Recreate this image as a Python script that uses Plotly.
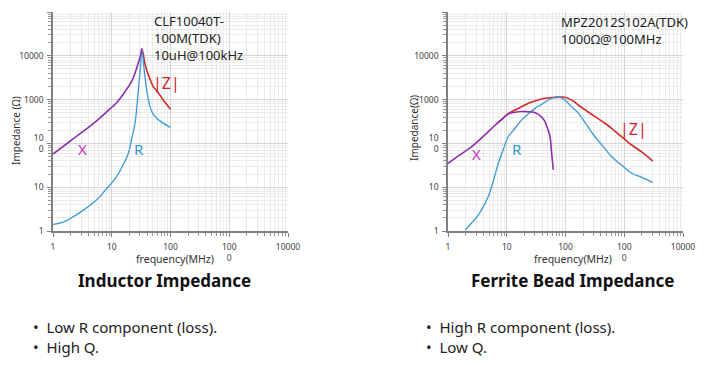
import plotly.graph_objects as go

# ---------------- data ----------------
# Inductor CLF10040T-100M
ind_x_f = [1, 2, 3.3, 6, 10, 12.1, 16, 21.8, 25, 28.4, 31, 32.3]
ind_x_z = [57, 115, 190, 360, 670, 850, 1380, 2600, 4100, 7000, 10500, 14500]

ind_r_f = [1, 1.5, 2, 3.3, 5, 6.3, 8, 10, 12.1, 15, 19.1, 22, 24.9, 28.4, 31, 32.3,
           34, 36, 39.3, 44.8, 50, 58.2, 75, 100]
ind_r_z = [1.42, 1.6, 1.95, 3.0, 4.6, 6.1, 9, 12.6, 17.4, 29, 59, 135, 288, 1660, 6300, 14500,
           9000, 4300, 1660, 690, 480, 375, 290, 230]

ind_z_f = [32.3, 34, 36, 39.3, 45, 51, 60, 75.5, 100]
ind_z_z = [14500, 12000, 7400, 4740, 2900, 1960, 1520, 980, 600]

# Ferrite bead MPZ2012S102A
fb_x_f = [1, 1.5, 2.53, 4.85, 7, 8.5, 10.6, 15.7, 21.8, 30, 40, 44.8, 50, 54.5, 58, 62]
fb_x_z = [35, 52, 84, 185, 295, 365, 470, 530, 530, 505, 390, 313, 210, 142, 62, 25]

fb_r_f = [1.95, 2.5, 3.28, 4.85, 6, 7.18, 8.5, 10.6, 13, 17.9, 24, 30.3, 40, 51, 62, 70.8,
          80, 98, 125, 165, 230, 318, 450, 611, 900, 1340, 2000, 3050]
fb_r_z = [1.05, 1.5, 2.3, 6.1, 15, 35, 65, 142, 200, 340, 490, 630, 790, 980, 1100, 1170,
          1140, 980, 700, 490, 263, 142, 81, 49.6, 32, 20.8, 16.8, 12.9]

fb_z_f = [7, 8.5, 10.6, 12.1, 16, 23.3, 30, 44.8, 60, 80, 98, 130, 165, 230, 318, 450, 611,
          900, 1340, 2000, 3050]
fb_z_z = [295, 370, 480, 530, 635, 823, 930, 1070, 1120, 1140, 1130, 960, 753, 550, 408, 300,
          221, 142, 92, 63, 39.6]

x_tickvals = [1, 10, 100, 1000, 10000]
x_ticktext = ["1", "10", "100", "100<br>0", "10000"]
y_tickvals = [1, 10, 100, 1000, 10000, 100000]
y_ticktext = ["1", "10", "10<br>0", "1000", "10000", "10000<br>0"]

# ---------------- layout helpers ----------------
W, H = 710, 365
OFF = 8  # page body margin offset
def PX(x): return (x - OFF) / W
def PY(y): return 1 - (y - OFF) / H

C_X, C_R, C_Z = "#8e2fae", "#3a9ad9", "#d42a2a"
L_X, L_R, L_Z = "#cc33cc", "#3399cc", "#cc2233"
FONT = "Noto Sans"

fig = go.Figure()

def add_set(xa, ya, zf, zz, rf, rz, xf, xz):
    fig.add_trace(go.Scatter(x=zf, y=zz, mode="lines", line=dict(color=C_Z, width=1.6),
                             xaxis=xa, yaxis=ya, showlegend=False, line_shape="spline"))
    fig.add_trace(go.Scatter(x=rf, y=rz, mode="lines", line=dict(color=C_R, width=1.3),
                             xaxis=xa, yaxis=ya, showlegend=False, line_shape="spline"))
    fig.add_trace(go.Scatter(x=xf, y=xz, mode="lines", line=dict(color=C_X, width=1.6),
                             xaxis=xa, yaxis=ya, showlegend=False, line_shape="spline"))

add_set("x", "y", ind_z_f, ind_z_z, ind_r_f, ind_r_z, ind_x_f, ind_x_z)
add_set("x2", "y2", fb_z_f, fb_z_z, fb_r_f, fb_r_z, fb_x_f, fb_x_z)

tickfont = dict(family=FONT, size=8.5, color="#404040")
minor = dict(dtick="D1", ticks="outside", ticklen=3, tickcolor="#999999",
             showgrid=True, gridcolor="#ebebeb", gridwidth=1)

def xaxis(dom, anchor):
    return dict(type="log", range=[0, 4], domain=dom, anchor=anchor,
                tickvals=x_tickvals, ticktext=x_ticktext,
                ticks="outside", ticklen=4, tickcolor="#808080", showline=True,
                linecolor="#808080", linewidth=1.5, showgrid=True, gridcolor="#d6d6d6",
                minor=minor, tickfont=tickfont, zeroline=False, automargin=False,
                ticklabelstandoff=3)

def yaxis(dom, anchor):
    return dict(type="log", range=[0, 5], domain=dom, anchor=anchor, tickvals=y_tickvals,
                ticktext=y_ticktext, ticks="outside", ticklen=4, tickcolor="#808080",
                showline=True, linecolor="#808080", linewidth=1.5, showgrid=True,
                gridcolor="#d6d6d6", minor=minor, tickfont=tickfont, zeroline=False,
                automargin=False, ticklabelstandoff=2)

ydom = [PY(231), PY(12)]
fig.update_layout(
    width=W, height=H, autosize=False,
    margin=dict(l=0, r=0, t=0, b=0),
    paper_bgcolor="white", plot_bgcolor="white",
    xaxis=xaxis([PX(53), PX(288)], "y"),
    yaxis=yaxis(ydom, "x"),
    xaxis2=xaxis([PX(448), PX(683)], "y2"),
    yaxis2=yaxis(ydom, "x2"),
)

ann = []
def text(x, y, s, size, color="#222222", xanchor="center", bold=False, angle=0,
         yanchor="middle"):
    ann.append(dict(x=PX(x), y=PY(y), xref="paper", yref="paper", text=s, showarrow=False,
                    xanchor=xanchor, yanchor=yanchor, textangle=angle, align="left",
                    font=dict(family=FONT, size=size, color=color,
                              weight="bold" if bold else "normal")))

# part-number notes
text(152, 9.5, "CLF10040T-<br>100M(TDK)<br>10uH@100kHz", 13, "#222222", "left", yanchor="top")
text(559, 11, "MPZ2012S102A(TDK)<br>1000Ω@100MHz", 13, "#222222", "left", yanchor="top")

# curve labels
text(82, 148.5, "X", 15, L_X)
text(139, 148.5, "R", 15, L_R)
text(166.5, 83, "|Z|", 16, L_Z)
text(476, 153.5, "X", 15, L_X)
text(517, 148.5, "R", 15, L_R)
text(633.5, 128.5, "|Z|", 16, L_Z)

# axis titles
text(175, 259, "frequency(MHz)", 10.5, "#333333")
text(573, 259, "frequency(MHz)", 10.5, "#333333")
text(16, 131, "Impedance (Ω)", 10, "#333333", angle=-90)
text(414, 128, "Impedance(Ω)", 10, "#333333", angle=-90)

# chart captions
text(164, 280, "Inductor Impedance", 17, "#111111", bold=True)
text(572.5, 280, "Ferrite Bead Impedance", 17, "#111111", bold=True)

# bullets
text(31, 327, "•  Low R component (loss).", 15, "#222222", "left")
text(31, 347, "•  High Q.", 15, "#222222", "left")
text(424, 327, "•  High R component (loss).", 15, "#222222", "left")
text(424, 347, "•  Low Q.", 15, "#222222", "left")

fig.update_layout(annotations=ann)
fig.write_html("out.html")
